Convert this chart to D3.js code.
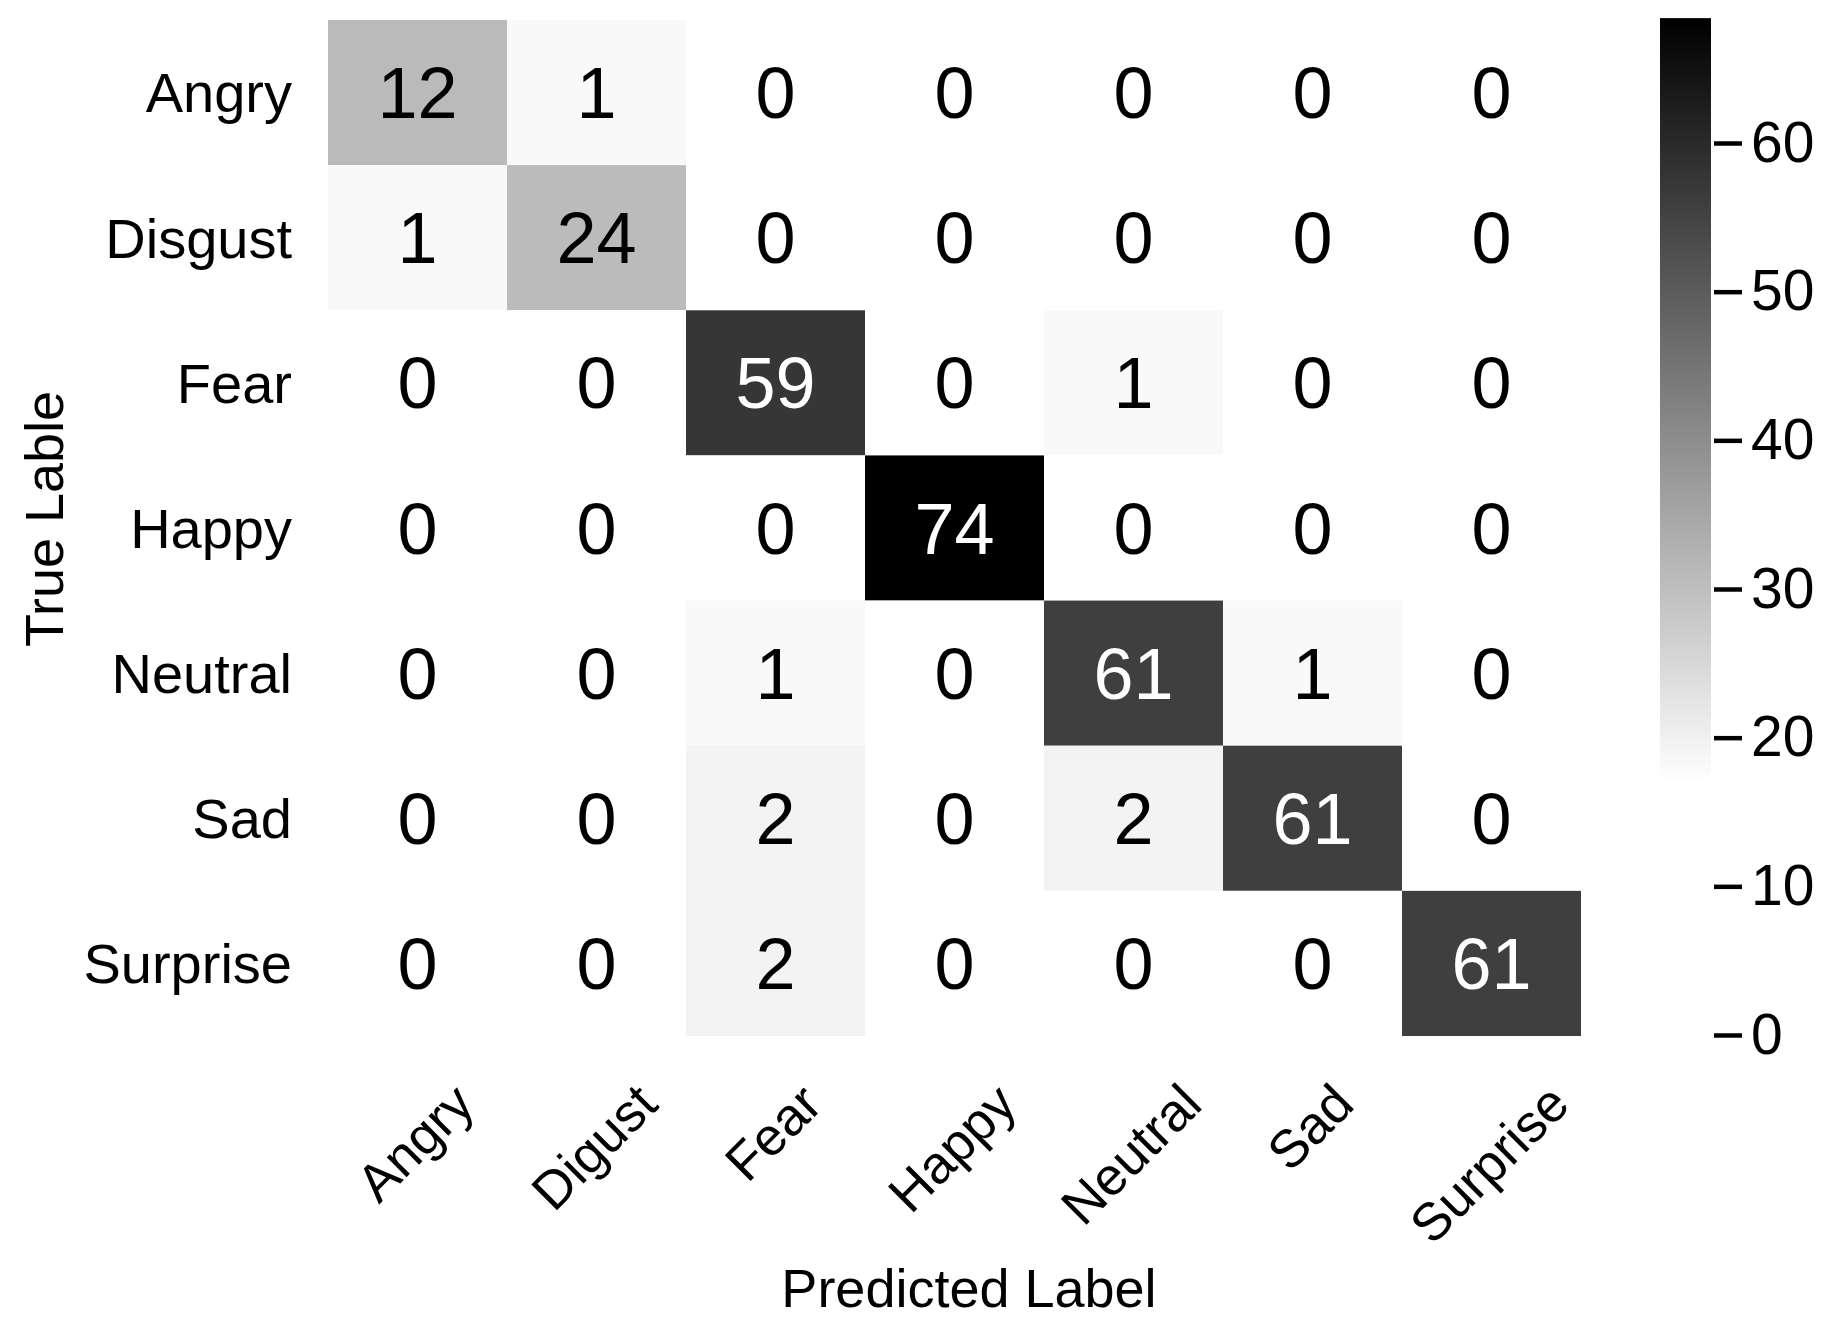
<!DOCTYPE html>
<html>
<head>
<meta charset="utf-8">
<script src="https://cdn.jsdelivr.net/npm/d3@7"></script>
<style>
  html, body { margin: 0; padding: 0; background: #fff; }
  svg { display: block; font-family: "Liberation Sans", Arial, sans-serif; }
</style>
</head>
<body>
<svg id="chart" width="1830" height="1329"></svg>
<script>
const trueLabels = ["Angry", "Disgust", "Fear", "Happy", "Neutral", "Sad", "Surprise"];
const predLabels = ["Angry", "Digust", "Fear", "Happy", "Neutral", "Sad", "Surprise"];
const counts = [
  [12, 1, 0, 0, 0, 0, 0],
  [1, 24, 0, 0, 0, 0, 0],
  [0, 0, 59, 0, 1, 0, 0],
  [0, 0, 0, 74, 0, 0, 0],
  [0, 0, 1, 0, 61, 1, 0],
  [0, 0, 2, 0, 2, 61, 0],
  [0, 0, 2, 0, 0, 0, 61]
];
const colorbarTicks = [0, 10, 20, 30, 40, 50, 60];
const colorbarRange = [17, 68.4];

const svg = d3.select("#chart");

// layout
const x = d3.scaleBand().domain(d3.range(predLabels.length)).range([328, 1581]).padding(0);
const y = d3.scaleBand().domain(d3.range(trueLabels.length)).range([20, 1036]).padding(0);

// cell colour scale (greys)
const cellColor = d3.scaleLinear()
  .domain([0, 1, 2, 12, 24, 59, 61, 74])
  .range(["#ffffff", "#f9f9f9", "#f3f3f3", "#bababa", "#bbbbbb", "#363636", "#3f3f3f", "#000000"])
  .clamp(true);

const cells = [];
counts.forEach((row, i) => row.forEach((v, j) => cells.push({ i, j, v })));

svg.append("g").selectAll("rect").data(cells).join("rect")
  .attr("x", d => x(d.j))
  .attr("y", d => y(d.i))
  .attr("width", x.bandwidth())
  .attr("height", y.bandwidth())
  .attr("fill", d => cellColor(d.v));

svg.append("g").selectAll("text").data(cells).join("text")
  .attr("x", d => x(d.j) + x.bandwidth() / 2)
  .attr("y", d => y(d.i) + y.bandwidth() / 2)
  .attr("dy", "0.355em")
  .attr("text-anchor", "middle")
  .attr("font-size", 72)
  .attr("fill", d => d.v > 40 ? "#ffffff" : "#000000")
  .text(d => d.v);

// y tick labels
svg.append("g").selectAll("text").data(trueLabels).join("text")
  .attr("x", 292)
  .attr("y", (d, i) => y(i) + y.bandwidth() / 2)
  .attr("dy", "0.355em")
  .attr("text-anchor", "end")
  .attr("font-size", 56)
  .attr("fill", "#000")
  .text(d => d);

// x tick labels rotated 45deg, bbox centred on column, top aligned
const xLabelTop = 1076;
const xFs = 53;
const xl = svg.append("g").selectAll("text").data(predLabels).join("text")
  .attr("text-anchor", "middle")
  .attr("font-size", xFs)
  .attr("fill", "#000")
  .text(d => d);
xl.each(function(d, j) {
  const w = this.getComputedTextLength();
  const h = xFs * 0.93;
  const cx = x(j) + x.bandwidth() / 2 - 3;
  const cy = xLabelTop + (w + h) / (2 * Math.SQRT2);
  d3.select(this)
    .attr("x", 0).attr("y", 0).attr("dy", "0.36em")
    .attr("transform", `translate(${cx},${cy}) rotate(-45)`);
});

// axis titles
svg.append("text")
  .attr("x", 969).attr("y", 1307)
  .attr("text-anchor", "middle")
  .attr("font-size", 54)
  .text("Predicted Label");

svg.append("text")
  .attr("transform", "translate(44,519) rotate(-90)")
  .attr("dy", "0.355em")
  .attr("text-anchor", "middle")
  .attr("font-size", 54)
  .text("True Lable");

// colorbar
const cb = d3.scaleLinear().domain([0, 60]).range([1035, 143]);
const barColor = d3.scaleLinear().domain(colorbarRange).range(["#ffffff", "#000000"]);
const defs = svg.append("defs");
const grad = defs.append("linearGradient").attr("id", "cbgrad")
  .attr("x1", 0).attr("y1", 1).attr("x2", 0).attr("y2", 0);
d3.range(0, 1.0001, 0.1).forEach(t => {
  const v = colorbarRange[0] + t * (colorbarRange[1] - colorbarRange[0]);
  grad.append("stop").attr("offset", t).attr("stop-color", barColor(v));
});
svg.append("rect")
  .attr("x", 1660)
  .attr("width", 51)
  .attr("y", cb(colorbarRange[1]))
  .attr("height", cb(colorbarRange[0]) - cb(colorbarRange[1]))
  .attr("fill", "url(#cbgrad)");

const cbAxis = svg.append("g")
  .attr("transform", "translate(1714,0)")
  .call(d3.axisRight(cb).tickValues(colorbarTicks).tickSize(28).tickPadding(9).tickFormat(d3.format("d")));
cbAxis.select(".domain").remove();
cbAxis.selectAll(".tick line").attr("stroke", "#000").attr("stroke-width", 4.5);
cbAxis.selectAll(".tick text")
  .attr("font-size", 57)
  .attr("font-family", "Liberation Sans, Arial, sans-serif")
  .attr("fill", "#000");
</script>
</body>
</html>
